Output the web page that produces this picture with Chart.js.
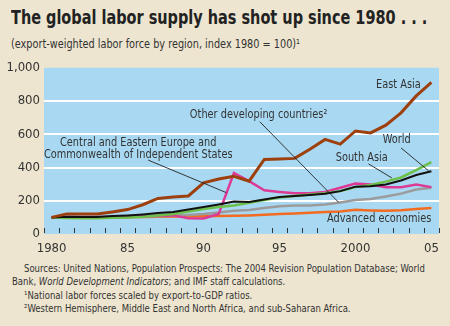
<!DOCTYPE html>
<html>
<head>
<meta charset="utf-8">
<script src="https://cdn.jsdelivr.net/npm/chart.js@4/dist/chart.umd.min.js"></script>
<style>
    body {
        margin: 0;
        width: 450px;
        height: 326px;
        overflow: hidden;
        background: #ede5cf;
        font-family: "DejaVu Sans Condensed", "Liberation Sans", sans-serif;
        color: #333;
        position: relative;
    }
    .fit { display: inline-block; transform-origin: 0 50%; white-space: nowrap; }
    #title {
        position: absolute; left: 11px; top: 5px;
        font-weight: bold; font-size: 20px; color: #222;
    }
    #subtitle {
        position: absolute; left: 11px; top: 37px;
        font-size: 12px;
    }
    #chartBox {
        position: absolute; left: 0; top: 56px; width: 450px; height: 200px;
    }
    #notes {
        position: absolute; left: 12px; top: 262px; width: 440px;
        font-size: 11px; line-height: 13.3px;
    }
    #notes p { margin: 0; white-space: nowrap; }
    .ind { padding-left: 12px; }
</style>
</head>
<body>
<div id="title"><span class="fit" id="titleText">The global labor supply has shot up since 1980 . . .</span></div>
<div id="subtitle"><span class="fit" id="subText">(export-weighted labor force by region, index 1980 = 100)¹</span></div>
<div id="chartBox"><canvas id="laborChart"></canvas></div>
<div id="notes">
    <p class="ind"><span class="fit note">Sources: United Nations, Population Prospects: The 2004 Revision Population Database; World</span></p>
    <p><span class="fit note">Bank, <i>World Development Indicators</i>; and IMF staff calculations.</span></p>
    <p class="ind"><span class="fit note">¹National labor forces scaled by export-to-GDP ratios.</span></p>
    <p class="ind"><span class="fit note">²Western Hemisphere, Middle East and North Africa, and sub-Saharan Africa.</span></p>
</div>
<script>
const years = [1980, 1981, 1982, 1983, 1984, 1985, 1986, 1987, 1988, 1989, 1990, 1991, 1992,
    1993, 1994, 1995, 1996, 1997, 1998, 1999, 2000, 2001, 2002, 2003, 2004, 2005];
const tickLabels = {1980: '1980', 1985: '85', 1990: '90', 1995: '95', 2000: '2000', 2005: '05'};

const eastAsia = [100, 121, 120, 120, 133, 147, 176, 214, 222, 229, 308, 331, 347, 318, 449, 451,
    455, 510, 569, 541, 620, 608, 655, 729, 831, 912];
const world = [100, 104, 103, 103, 108, 112, 118, 126, 133, 148, 163, 178, 195, 193, 208, 222,
    228, 234, 242, 258, 285, 287, 298, 322, 355, 377];
const southAsia = [100, 97, 95, 95, 98, 100, 104, 112, 120, 135, 150, 162, 172, 188, 204, 220,
    228, 237, 245, 258, 282, 295, 315, 340, 385, 433];
const ceeCis = [100, 103, 103, 102, 103, 105, 107, 110, 112, 95, 93, 120, 367, 318, 263, 253,
    245, 245, 253, 278, 304, 298, 282, 282, 298, 282];
const otherDeveloping = [100, 100, 101, 101, 102, 103, 105, 107, 110, 114, 120, 130, 140, 145, 157, 167,
    171, 171, 178, 190, 204, 210, 226, 243, 268, 278];
const advanced = [100, 99, 99, 100, 101, 102, 103, 104, 105, 106, 107, 108, 110, 112, 116, 120,
    124, 128, 133, 136, 146, 142, 140, 143, 150, 157];

// labels on the plot, in data units (year, index value)
const notes = [
    { text: 'East Asia', year: 2004.3, value: 900, align: 'right' },
    { text: 'Other developing countries²', year: 1989.1, value: 716, align: 'left',
      line: [1993.7, 676, 1998.9, 190] },
    { text: 'Central and Eastern Europe and', year: 1985.7, value: 547, align: 'center' },
    { text: 'Commonwealth of Independent States', year: 1985.7, value: 475, align: 'center',
      line: [1986.35, 445, 1991.5, 249] },
    { text: 'World', year: 2001.8, value: 569, align: 'left',
      line: [2003.0, 518, 2004.82, 380] },
    { text: 'South Asia', year: 1998.7, value: 456, align: 'left',
      line: [2000.86, 422, 2002.4, 337] },
    { text: 'Advanced economies', year: 2005.0, value: 92, align: 'right' }
];

const FONT = '"DejaVu Sans Condensed", "Liberation Sans", sans-serif';

// squeeze html text to the width it has in the printed chart
function fitWidth(el, target) {
    el.style.transform = 'scaleX(' + (target / el.offsetWidth) + ')';
}
fitWidth(document.getElementById('titleText'), 416);
fitWidth(document.getElementById('subText'), 289);
const noteSpans = document.querySelectorAll('.note');
const noteScale = 401 / noteSpans[0].offsetWidth;
noteSpans.forEach(s => { s.style.transform = 'scaleX(' + noteScale + ')'; });

const plotBg = {
    id: 'plotBg',
    beforeDraw(chart) {
        const { ctx, chartArea: a } = chart;
        ctx.save();
        ctx.fillStyle = '#a9d9f2';
        ctx.fillRect(a.left, a.top, a.right - a.left, a.bottom - a.top);
        ctx.restore();
    }
};

// small year ticks standing inside the plot
const yearTicks = {
    id: 'yearTicks',
    beforeDatasetsDraw(chart) {
        const { ctx, chartArea: a, scales: { x } } = chart;
        const step = x.getPixelForValue(1) - x.getPixelForValue(0);
        ctx.save();
        ctx.strokeStyle = '#333';
        ctx.lineWidth = 1;
        for (let i = 0; i <= years.length; i++) {
            const px = Math.round(x.getPixelForValue(i) - step / 2) + 0.5;
            ctx.beginPath();
            ctx.moveTo(px, a.bottom - 6);
            ctx.lineTo(px, a.bottom - 1);
            ctx.stroke();
        }
        ctx.restore();
    }
};

const noteLabels = {
    id: 'noteLabels',
    afterDatasetsDraw(chart) {
        const { ctx, scales: { x, y } } = chart;
        ctx.save();
        ctx.font = '12.5px ' + FONT;
        ctx.fillStyle = '#333';
        ctx.textBaseline = 'middle';
        notes.forEach(n => {
            ctx.save();
            ctx.translate(x.getPixelForValue(n.year - 1980), y.getPixelForValue(n.value));
            ctx.scale(0.87, 1);
            ctx.textAlign = n.align;
            ctx.fillText(n.text, 0, 0);
            ctx.restore();
            if (n.line) {
                ctx.strokeStyle = '#222';
                ctx.lineWidth = 0.9;
                ctx.beginPath();
                ctx.moveTo(x.getPixelForValue(n.line[0] - 1980), y.getPixelForValue(n.line[1]));
                ctx.lineTo(x.getPixelForValue(n.line[2] - 1980), y.getPixelForValue(n.line[3]));
                ctx.stroke();
            }
        });
        ctx.restore();
    }
};

function series(data, color, width) {
    return { data: data, borderColor: color, borderWidth: width, pointRadius: 0, tension: 0, fill: false };
}

new Chart(document.getElementById('laborChart'), {
    type: 'line',
    data: {
        labels: years,
        datasets: [
            series(eastAsia, '#9e3f0e', 3),
            series(world, '#111111', 2),
            series(southAsia, '#6cc04a', 2.5),
            series(ceeCis, '#dc3a95', 2.5),
            series(otherDeveloping, '#9b9b9b', 2.5),
            series(advanced, '#f26b21', 2.5)
        ]
    },
    options: {
        responsive: true,
        maintainAspectRatio: false,
        animation: false,
        layout: { padding: { top: 8, right: 11, left: 0, bottom: 0 } },
        plugins: { legend: { display: false }, tooltip: { enabled: false } },
        scales: {
            x: {
                offset: true,
                afterFit: s => { s.height = 22; },
                border: { display: false },
                grid: { display: false, drawTicks: false },
                ticks: {
                    autoSkip: false, maxRotation: 0, padding: 7, color: '#333',
                    font: { family: FONT, size: 13 },
                    callback: (v, i) => tickLabels[years[i]] || null
                }
            },
            y: {
                min: 0, max: 1000,
                afterFit: s => { s.width = 44; },
                border: { display: false },
                grid: {
                    drawTicks: false, lineWidth: 2,
                    color: c => (c.tick.value > 0 && c.tick.value < 1000) ? '#ffffff' : 'rgba(0,0,0,0)'
                },
                ticks: {
                    stepSize: 200, padding: 4, color: '#333',
                    font: { family: FONT, size: 13 },
                    callback: v => v.toLocaleString('en-US')
                }
            }
        }
    },
    plugins: [plotBg, yearTicks, noteLabels]
});
</script>
</body>
</html>
